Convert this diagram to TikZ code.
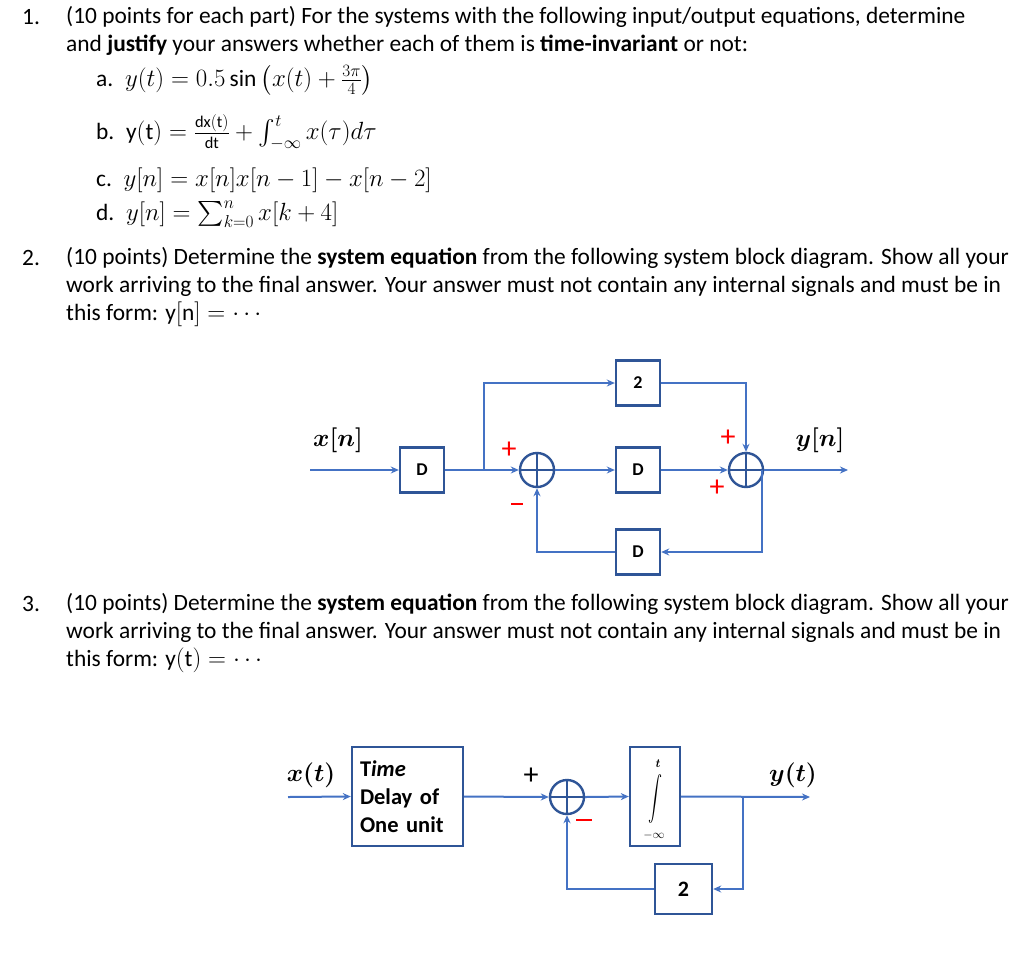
\documentclass[tikz,border=0pt]{standalone}
\usepackage{fontspec}
\setmainfont{Carlito}
\usepackage{amsmath}
\usetikzlibrary{arrows.meta}
\definecolor{ln}{HTML}{4472C4}
\definecolor{bx}{HTML}{2F5597}
\begin{document}
\begin{tikzpicture}[x=1pt,y=-1pt,
  every node/.style={inner sep=0pt},
  txt/.style={anchor=west,font=\fontsize{23.4}{28}\selectfont},
  blk/.style={draw=bx,line width=2.4pt,minimum width=44pt,minimum height=45pt,font=\fontsize{18}{18}\selectfont\bfseries},
  sum/.style={draw=bx,line width=2.4pt,circle,minimum size=34pt},
  wire/.style={draw=ln,line width=2pt},
  arr/.style={wire,-{Stealth[length=8pt,width=7pt]}},
  sgn/.style={font=\fontsize{30}{30}\selectfont,text=red},
  lab/.style={font=\fontsize{25}{26}\selectfont}]
\useasboundingbox[fill=white] (0,0) rectangle (1024,962);
% text
\node[txt] (n1) at (22,17) {1.};
\node[txt] (t1) at (66,17) {(10 points for each part) For the systems with the following input/output equations, determine};
\node[txt] (t2) at (66,45) {and \textbf{justify} your answers whether each of them is \textbf{time-invariant} or not:};
\node[txt] (ta) at (96,80) {a.\enspace $y(t)=0.5\sin\left(x(t)+\frac{3\pi}{4}\right)$};
\node[txt] (tb) at (96,132) {b.\enspace $\mathrm{y(t)}=\frac{\mathrm{dx(t)}}{\mathrm{dt}}+\int_{-\infty}^{t}x(\tau)d\tau$};
\node[txt] (tc) at (96,180) {c.\enspace $y[n]=x[n]x[n-1]-x[n-2]$};
\node[txt] (td) at (96,214) {d.\enspace $y[n]=\sum_{k=0}^{n}x[k+4]$};
\node[txt] (n2) at (22,258) {2.};
\node[txt] (t3) at (66,258) {(10 points) Determine the \textbf{system equation} from the following system block diagram. Show all your};
\node[txt] (t4) at (66,286) {work arriving to the final answer. Your answer must not contain any internal signals and must be in};
\node[txt] (t5) at (66,314) {this form: $\mathrm{y[n]}=\cdots$};
\node[txt] (n3) at (22,604) {3.};
\node[txt] (t6) at (66,604) {(10 points) Determine the \textbf{system equation} from the following system block diagram. Show all your};
\node[txt] (t7) at (66,632) {work arriving to the final answer. Your answer must not contain any internal signals and must be in};
\node[txt] (t8) at (66,660) {this form: $\mathrm{y(t)}=\cdots$};
% diagram 2
\coordinate (in2) at (310,470);
\node[blk] (d1) at (422,470) {D};
\node[blk] (g2) at (638,383) {2};
\node[blk] (d2) at (638,470) {D};
\node[blk] (d3) at (638,552) {D};
\node[sum] (s1) at (537,470) {};
\node[sum] (s2) at (746,470) {};
\draw[bx,line width=2.4pt] (s1.north)--(s1.south) (s1.west)--(s1.east) (s2.north)--(s2.south) (s2.west)--(s2.east);
\coordinate (out2) at (848,470);
\coordinate (b1) at (484,470);
\coordinate (b2) at (762,470);
\draw[arr] (in2)--(d1.west);
\draw[arr] (d1.east)--(s1.west);
\draw[arr] (b1)|-(g2.west);
\draw[arr] (s1.east)--(d2.west);
\draw[arr] (d2.east)--(s2.west);
\draw[arr] (g2.east)-|(s2.north);
\draw[arr] (s2.east)--(out2);
\draw[arr] (b2)|-(d3.east);
\draw[arr] (d3.west)-|(s1.south);
\node[lab] (xn) at (338,440) {$\boldsymbol{x[n]}$};
\node[lab] (yn) at (820,440) {$\boldsymbol{y[n]}$};
\node[sgn] (p1) at (509,450) {+};
\node[sgn] (m1) at (517,506) {\rule[0.3ex]{12pt}{1.8pt}};
\node[sgn] (p2) at (728,438) {+};
\node[sgn] (p3) at (717,488) {+};
% diagram 3
\coordinate (in3) at (288,797);
\node[blk,minimum width=111pt,minimum height=99pt,align=left,font=\fontsize{22.5}{28}\selectfont\bfseries,text width=95pt] (td3) at (407.5,796.5) {T\textit{ime}\\Delay of\\One unit};
\node[sum] (s3) at (567,797) {};
\draw[bx,line width=2.4pt] (s3.north)--(s3.south) (s3.west)--(s3.east);
\node[blk,minimum width=50pt,minimum height=99pt] (int) at (655,796.5) {};
\node (ints) at (655,799) {\scalebox{1.4}[2.2]{$\displaystyle\int$}};
\node[font=\large] (tt) at (658,764) {$\boldsymbol{t}$};
\node[font=\large] (mi) at (654,835) {$-\infty$};
\node[blk,minimum width=57pt,minimum height=50pt,font=\fontsize{22}{22}\selectfont\bfseries] (g3) at (683.5,889) {2};
\coordinate (out3) at (810,797);
\coordinate (b3) at (743,797);
\draw[arr] (in3)--(td3.west);
\draw[arr] (td3.east)--(s3.west);
\draw[arr] (s3.east)--(int.west);
\draw[arr] (int.east)--(out3);
\draw[arr] (b3)|-(g3.east);
\draw[arr] (g3.west)-|(s3.south);
\node[lab] (xt) at (311,775) {$\boldsymbol{x(t)}$};
\node[lab] (yt) at (793,775) {$\boldsymbol{y(t)}$};
\node[sgn,text=black] (p4) at (531,776) {+};
\node[sgn] (m2) at (584,822) {\rule[0.3ex]{16pt}{1.8pt}};
\end{tikzpicture}
\end{document}
